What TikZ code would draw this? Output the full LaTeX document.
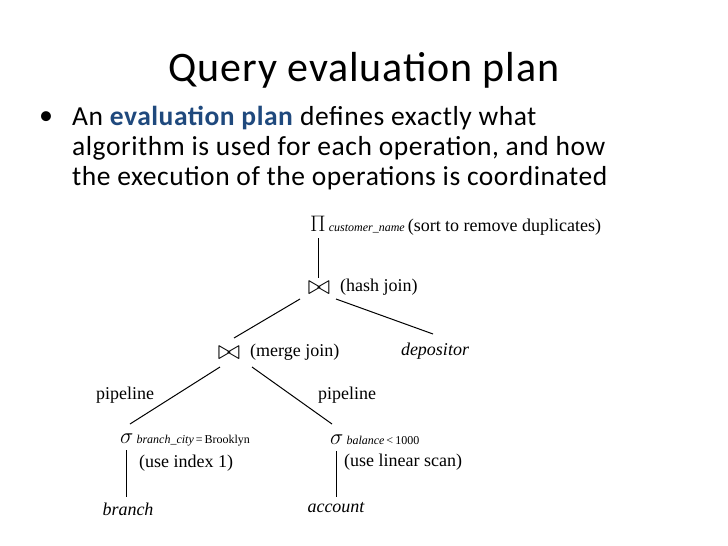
\documentclass[tikz,border=0pt]{standalone}
\usepackage{fontspec}
\setmainfont{Liberation Serif}
\newfontfamily\carlitofont[LetterSpace=2]{Carlito}
\definecolor{hl}{HTML}{1F497D}
\begin{document}
\begin{tikzpicture}[x=1pt,y=-1pt,
  lab/.style={inner sep=0pt,font=\fontsize{18}{20}\selectfont},
  sub/.style={},
  edge/.style={line width=1pt}]
\useasboundingbox (0,0) rectangle (728,546);
\node[font=\carlitofont\fontsize{42}{46}\selectfont] (title) at (364,70) {Query evaluation plan};
\node[font=\carlitofont\fontsize{28}{30}\selectfont] (bul) at (46,118) {•};
\node[anchor=west,align=left,inner sep=0pt,font=\carlitofont\fontsize{27.5}{30}\selectfont] (txt) at (72,148)
 {An \textcolor{hl}{\textbf{evaluation plan}} defines exactly what\\
  algorithm is used for each operation, and how\\
  the execution of the operations is coordinated};
% tree
\node[lab,anchor=west] (pi) at (310,226) {\scalebox{1.3}{$\Pi$}\,{\fontsize{12}{14}\selectfont\itshape customer\_name}\,(sort to remove duplicates)};
\coordinate (piB) at (318,238);
\node[lab] (hj) at (319,288) {\scalebox{1.6}{$\bowtie$}};
\node[lab,anchor=west] (hjl) at (340,287) {(hash join)};
\node[lab] (mj) at (229,353) {\scalebox{1.6}{$\bowtie$}};
\node[lab,anchor=west] (mjl) at (250,352) {(merge join)};
\node[lab,font=\fontsize{18}{20}\selectfont\itshape] (dep) at (435,351) {depositor};
\node[lab] (pl) at (125,395) {pipeline};
\node[lab] (pr) at (347,395) {pipeline};
\node[lab,anchor=west] (sl) at (120,440) {\scalebox{1.3}{$\sigma$}\,{\fontsize{12}{14}\selectfont\itshape branch\_city\upshape\,=\,Brooklyn}};
\node[lab,anchor=west] (sr) at (330,440) {\scalebox{1.3}{$\sigma$}\,{\fontsize{12}{14}\selectfont\itshape balance\upshape\,<\,1000}};
\node[lab,anchor=west] (ul) at (139,463) {(use index 1)};
\node[lab,anchor=west] (ur) at (344,462) {(use linear scan)};
\node[lab,font=\fontsize{18}{20}\selectfont\itshape] (br) at (128,509) {branch};
\node[lab,font=\fontsize{18}{20}\selectfont\itshape] (ac) at (336,508) {account};
\coordinate (slB) at (126,450); \coordinate (srB) at (336,451);
\draw[edge] (piB) -- (318,278);
\draw[edge] (300,299) -- (234,338);
\draw[edge] (336,299) -- (433,334);
\draw[edge] (220,367) -- (130,424);
\draw[edge] (252,367) -- (332,424);
\draw[edge] (slB) -- (126,497);
\draw[edge] (srB) -- (336,497);
\end{tikzpicture}
\end{document}
